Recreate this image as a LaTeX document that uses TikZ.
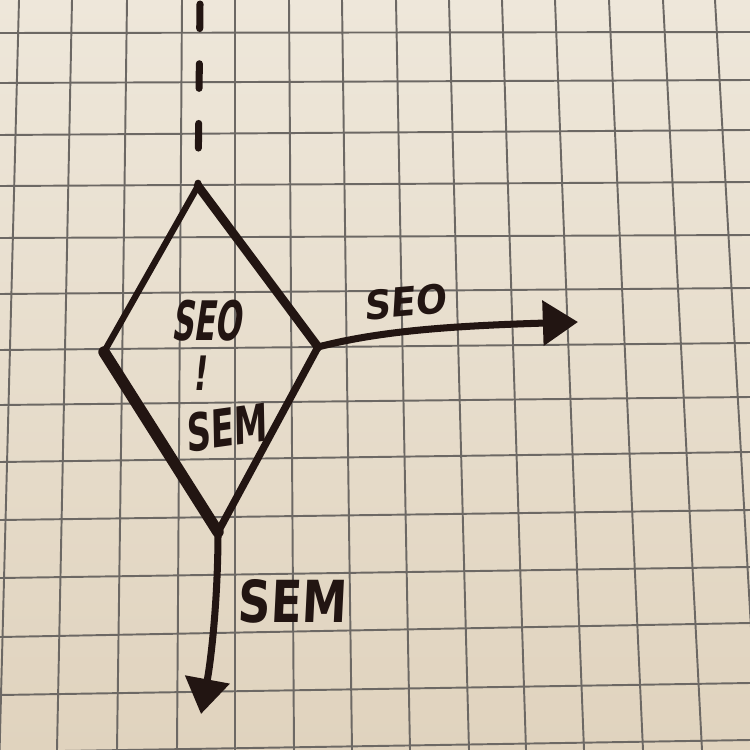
\documentclass[tikz,border=0pt]{standalone}
\usepackage{fontspec}
\usetikzlibrary{arrows.meta}
\newfontfamily\handA[FakeStretch=0.57,FakeSlant=0.15]{DejaVu Sans Bold}
\newfontfamily\handB[FakeStretch=0.66,FakeSlant=0.12]{DejaVu Sans Bold}
\newfontfamily\handC[FakeStretch=0.92,FakeSlant=0.15]{DejaVu Sans Bold}
\newfontfamily\handD[FakeStretch=0.78,FakeSlant=0.05]{DejaVu Sans Bold}
\definecolor{ink}{RGB}{34,21,18}
\definecolor{papertop}{RGB}{238,231,218}
\definecolor{paperbot}{RGB}{224,211,190}
\definecolor{gridc}{RGB}{108,104,100}
\begin{document}
\begin{tikzpicture}[x=0.02cm,y=-0.02cm,
  gridline/.style={draw=gridc,line width=1.1pt},
  edge/.style={draw=ink,line cap=round,line join=round},
  arrowline/.style={draw=ink,line width=4pt,line cap=round,-{Triangle[length=20pt,width=25pt]}},
  txt/.style={text=ink,inner sep=0pt}]
\useasboundingbox (0,0) rectangle (750,750);
\shade[top color=papertop,bottom color=paperbot] (0,0) rectangle (750,750);
% grid paper
\foreach \a/\b in {19/-0.4,72/57,127/117,182/177,235/235,289/294,342/352,396/410,449/469,502/526,555/584,609/643,663/702,715/758}
  \draw[gridline] (\a,0) -- (\b,750);
\foreach \a/\b in {33/32,83/80,135/130,186/182,238/235,294/288,350/343,405/397,462/452,520/510,578/567,637/623,695/683,752/740}
  \draw[gridline] (0,\a) -- (750,\b);
% diamond corners
\coordinate (dT) at (198,186);
\coordinate (dL) at (104,352);
\coordinate (dR) at (318,347);
\coordinate (dB) at (218,532);
\coordinate (dashStart) at (200,4);
\coordinate (seoEnd) at (578,322);
\coordinate (semEnd) at (201,714);
% dashed incoming line
\draw[edge,line width=4pt,dash pattern=on 14pt off 20pt] (dashStart) -- (dT);
% diamond
\draw[edge,line width=3.6pt] (dT) -- (dL);
\draw[edge,line width=5pt] (dT) -- (dR);
\draw[edge,line width=6.5pt] (dL) -- (dB);
\draw[edge,line width=4.2pt] (dR) -- (dB);
% outgoing arrows
\draw[arrowline] (dR) .. controls (380,331) and (450,326) .. (seoEnd);
\draw[arrowline] (dB) .. controls (218,600) and (211,660) .. (semEnd);
% texts
\node[txt,font=\handA\fontsize{31}{31}\selectfont] (inSEO) at (206,321) {SEO};
\node[txt,font=\handB\fontsize{27}{27}\selectfont] (inBang) at (200,373) {!};
\node[txt,font=\handB\fontsize{29.5}{29.5}\selectfont,rotate=8] (inSEM) at (225,428) {SEM};
\node[txt,font=\handC\fontsize{22.7}{22.7}\selectfont,rotate=5] (lblSEO) at (404,302) {SEO};
\node[txt,font=\handD\fontsize{33}{33}\selectfont] (lblSEM) at (292,601) {SEM};
\end{tikzpicture}
\end{document}
